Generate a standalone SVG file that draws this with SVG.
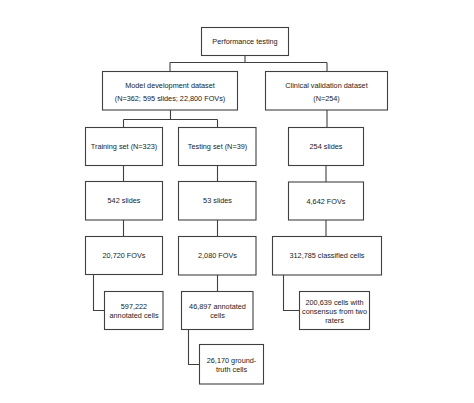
<svg xmlns="http://www.w3.org/2000/svg" width="474" height="403" viewBox="0 0 474 403">
  <style>
    .box { fill: #ffffff; stroke: #404040; stroke-width: 1.1; }
    .lbl { font-family: "Liberation Sans", Arial, sans-serif; font-size: 7.3px; fill: #222222; text-anchor: middle; dominant-baseline: central; }
    .conn { fill: none; stroke: #404040; stroke-width: 1.1; }
  </style>
  <rect width="474" height="403" fill="#ffffff"/>

  <g id="connectors">
    <path class="conn" d="M245 55 V62.5 M170 62.5 H327 M170 62.5 V71 M327 62.5 V71"/>
    <path class="conn" d="M170.5 110 V119.5 M123.5 119.5 H217.5 M123.5 119.5 V127 M217.5 119.5 V127"/>
    <path class="conn" d="M327 110 V127"/>
    <path class="conn" d="M123.5 165 V181 M217.5 165 V181 M326 165 V182"/>
    <path class="conn" d="M123.5 220 V236 M217.5 220 V236 M326 220 V236"/>
    <path class="conn" d="M93.5 274 V310.5 H104"/>
    <path class="conn" d="M217.5 275 V291"/>
    <path class="conn" d="M283.5 275 V310.5 H299"/>
    <path class="conn" d="M188.5 329 V364.5 H199"/>
  </g>

  <g id="performance-testing">
    <rect class="box" x="201.5" y="27.5" width="87" height="28"/>
    <text class="lbl" x="245" y="41.5">Performance testing</text>
  </g>

  <g id="model-development">
    <rect class="box" x="102.5" y="71.5" width="135" height="38.5"/>
    <text class="lbl" x="170" y="85">Model development dataset</text>
    <text class="lbl" x="170" y="98.5">(N=362; 595 slides; 22,800 FOVs)</text>
  </g>

  <g id="clinical-validation">
    <rect class="box" x="265.5" y="71.5" width="122" height="38.5"/>
    <text class="lbl" x="326.5" y="85">Clinical validation dataset</text>
    <text class="lbl" x="326.5" y="98.5">(N=254)</text>
  </g>

  <g id="training-set">
    <rect class="box" x="85.5" y="127.5" width="77" height="38"/>
    <text class="lbl" x="124" y="146.5">Training set (N=323)</text>
  </g>

  <g id="testing-set">
    <rect class="box" x="178.5" y="127.5" width="77.5" height="38"/>
    <text class="lbl" x="217.5" y="146.5">Testing set (N=39)</text>
  </g>

  <g id="clinical-slides">
    <rect class="box" x="288.5" y="127.5" width="75" height="38"/>
    <text class="lbl" x="326" y="146.5">254 slides</text>
  </g>

  <g id="training-slides">
    <rect class="box" x="85.5" y="181.5" width="77" height="38.5"/>
    <text class="lbl" x="124" y="200.5">542 slides</text>
  </g>

  <g id="testing-slides">
    <rect class="box" x="178.5" y="181.5" width="77.5" height="38.5"/>
    <text class="lbl" x="217.5" y="200.5">53 slides</text>
  </g>

  <g id="clinical-fovs">
    <rect class="box" x="288.5" y="182" width="75" height="38"/>
    <text class="lbl" x="326" y="201">4,642 FOVs</text>
  </g>

  <g id="training-fovs">
    <rect class="box" x="85.5" y="236.5" width="77" height="38"/>
    <text class="lbl" x="124" y="255.5">20,720 FOVs</text>
  </g>

  <g id="testing-fovs">
    <rect class="box" x="178.5" y="236.5" width="77.5" height="38.5"/>
    <text class="lbl" x="217.5" y="255.5">2,080 FOVs</text>
  </g>

  <g id="classified-cells">
    <rect class="box" x="272.5" y="236.5" width="109" height="38.5"/>
    <text class="lbl" x="327" y="255.5">312,785 classified cells</text>
  </g>

  <g id="training-annotated">
    <rect class="box" x="104.5" y="291.5" width="58.5" height="38"/>
    <text class="lbl" x="134" y="306">597,222</text>
    <text class="lbl" x="134" y="315.5">annotated cells</text>
  </g>

  <g id="testing-annotated">
    <rect class="box" x="181.5" y="291.5" width="71.5" height="38"/>
    <text class="lbl" x="217.5" y="306">46,897 annotated</text>
    <text class="lbl" x="217.5" y="315.5">cells</text>
  </g>

  <g id="consensus-cells">
    <rect class="box" x="299.5" y="291.5" width="70" height="38"/>
    <text class="lbl" x="334.5" y="302">200,639 cells with</text>
    <text class="lbl" x="334.5" y="311">consensus from two</text>
    <text class="lbl" x="334.5" y="320">raters</text>
  </g>

  <g id="ground-truth">
    <rect class="box" x="199.5" y="344.5" width="64" height="39.5"/>
    <text class="lbl" x="231.5" y="360">26,170 ground-</text>
    <text class="lbl" x="231.5" y="369.5">truth cells</text>
  </g>
</svg>
